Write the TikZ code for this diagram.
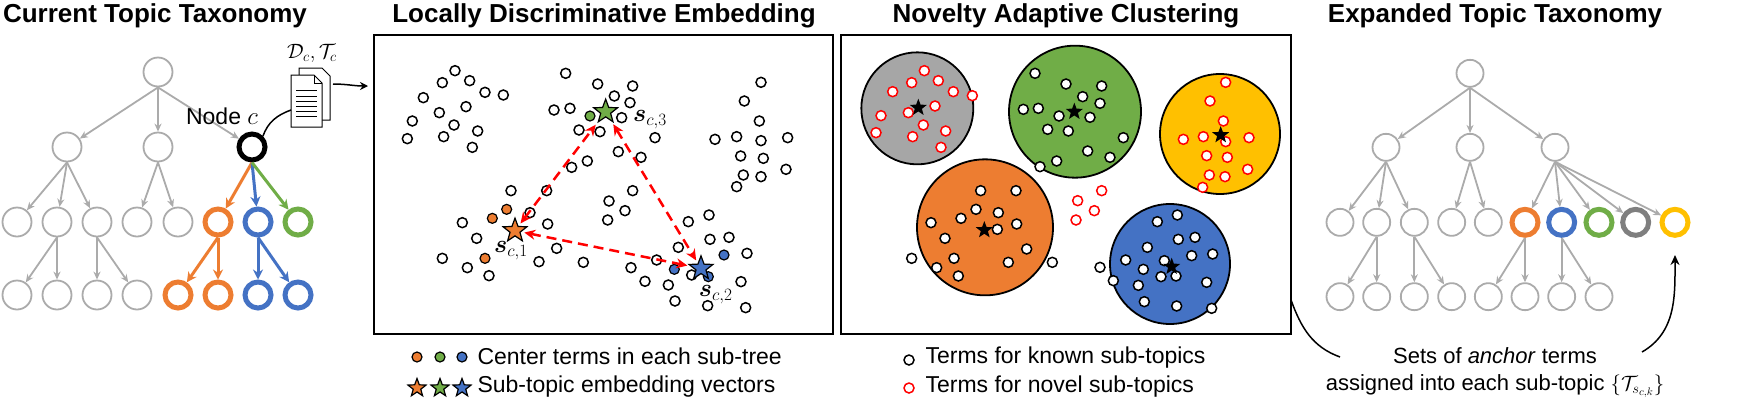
\documentclass[tikz,border=0pt]{standalone}
\usepackage{fontspec}
\setmainfont{Liberation Sans}
\usepackage{amsmath}
\usetikzlibrary{shapes.geometric,arrows.meta}
\definecolor{cor}{HTML}{ED7D31}
\definecolor{cbl}{HTML}{4472C4}
\definecolor{cgr}{HTML}{70AD47}
\definecolor{cye}{HTML}{FFC000}
\definecolor{cgy}{HTML}{A6A6A6}
\definecolor{cdg}{HTML}{7F7F7F}
\definecolor{tg}{HTML}{ABABAB}
\begin{document}
\begin{tikzpicture}[x=1pt,y=-1pt,
  tn/.style={circle,draw=tg,line width=1.8pt,minimum size=29pt,inner sep=0},
  cn/.style={circle,draw=#1,line width=5pt,minimum size=26pt,inner sep=0},
  te/.style={draw=tg,line width=1.8pt,-{Stealth[length=8pt,width=7pt]}},
  ce/.style={draw=#1,line width=3pt,-{Stealth[length=10pt,width=10pt]}},
  pt/.style={circle,draw=black,fill=white,line width=1.5pt,minimum size=10pt,inner sep=0},
  rp/.style={circle,draw=red,fill=white,line width=1.5pt,minimum size=10pt,inner sep=0},
  fp/.style={circle,draw=black,fill=#1,line width=1.2pt,minimum size=10pt,inner sep=0},
  st/.style={star,star points=5,star point ratio=2.4,draw=black,fill=#1,line width=1.2pt,minimum size=25pt,inner sep=0},
  bst/.style={star,star points=5,star point ratio=2.4,fill=black,minimum size=18pt,inner sep=0},
  big/.style={circle,draw=black,line width=1.8pt,fill=#1,inner sep=0},
  ttl/.style={font=\bfseries\fontsize{26}{29}\selectfont},
  lg/.style={font=\fontsize{23}{26}\selectfont,anchor=west},
  ml/.style={font=\fontsize{25}{28}\selectfont},
  rd/.style={draw=red,dashed,dash pattern=on 10pt off 6pt,line width=2.5pt,{Stealth[length=11pt,width=10pt]}-{Stealth[length=11pt,width=10pt]},shorten <=3pt,shorten >=3pt}]
\useasboundingbox (0,0) rectangle (1739,405);
% titles
\node[ttl] (t1) at (155,16) {Current Topic Taxonomy};
\node[ttl] (t2) at (604,16) {Locally Discriminative Embedding};
\node[ttl] (t3) at (1066,16) {Novelty Adaptive Clustering};
\node[ttl] (t4) at (1495,16) {Expanded Topic Taxonomy};
% left tree
\node[tn] (r) at (158,72) {};
\node[tn] (a) at (67,147) {};
\node[tn] (b) at (158,147) {};
\node[circle,draw=black,line width=5pt,minimum size=26pt,inner sep=0] (c) at (252,147) {};
\foreach \n/\x in {a1/17,a2/57,a3/97,b1/137,b2/178}{\node[tn] (\n) at (\x,222) {};}
\node[cn=cor] (c1) at (218,222) {};
\node[cn=cbl] (c2) at (258,222) {};
\node[cn=cgr] (c3) at (298,222) {};
\foreach \n/\x in {d1/17,d2/57,d3/97,d4/137}{\node[tn] (\n) at (\x,295) {};}
\node[cn=cor] (e1) at (178,295) {};
\node[cn=cor] (e2) at (218,295) {};
\node[cn=cbl] (e3) at (258,295) {};
\node[cn=cbl] (e4) at (298,295) {};
\foreach \p/\q in {r/a,r/b,r/c,a/a1,a/a2,a/a3,b/b1,b/b2,a2/d1,a2/d2,a3/d3,a3/d4}{\draw[te] (\p.south) -- (\q);}
\draw[ce=cor] (c.south) -- (c1); \draw[ce=cbl] (c.south) -- (c2); \draw[ce=cgr] (c.south) -- (c3);
\draw[ce=cor] (c1.south) -- (e1); \draw[ce=cor] (c1.south) -- (e2);
\draw[ce=cbl] (c2.south) -- (e3); \draw[ce=cbl] (c2.south) -- (e4);
\node[font=\fontsize{23}{26}\selectfont] (nc) at (222,116) {Node $c$};
% document icon
\draw[line width=1pt,fill=white] (299,68) -- (322,68) -- (330,76) -- (330,120) -- (299,120) -- cycle;
\draw[line width=1pt,fill=white] (291,75) -- (314,75) -- (322,83) -- (322,127) -- (291,127) -- cycle;
\draw[line width=0.8pt] (314,75) -- (314,83) -- (322,83);
\foreach \yy in {90,96,101,106,111,116}{\draw[line width=0.8pt] (296,\yy) -- (317,\yy);}
\coordinate (doc) at (291,110);
\node[font=\fontsize{21}{24}\selectfont] (dl) at (312,53) {$\mathcal{D}_c,\mathcal{T}_c$};
\draw[line width=1.5pt] (doc) to[out=200,in=70] (c.north east);
\coordinate (dR) at (333,84);
\coordinate (bx) at (368,86);
\draw[line width=1.5pt,-{Stealth[length=8pt,width=8pt]}] (dR) to[out=0,in=180] (bx);
% boxes
\draw[line width=2.2pt] (374,35) rectangle (833,334);
\draw[line width=2.2pt] (841,35) rectangle (1291,334);
% box1 points (zoom coords)
\begin{scope}[shift={(335,40)},scale=1/3]
\foreach \p in {(360,92),(322,128),(404,122),(450,157),(505,165),(265,173),(313,218),(393,200),(232,243),(357,255),(428,273),(217,296),(326,290),(412,322),
(692,100),(788,132),(893,138),(838,168),(885,188),(657,210),(705,205),(860,233),(732,270),(795,275),(960,293),(850,335),(918,352),(757,363),(710,382),
(1228,183),(1140,298),(1205,290),(1217,348),(1225,405),(1205,440),
(528,452),(635,452),(893,452),(822,483),(870,512),(818,540),(382,548),(585,518),(638,552),(425,595),(322,655),(397,683),(462,707),(612,665),(665,625),(745,667),(888,683),(965,660),(930,724),(1060,545),(1122,525),(1125,598),(1182,592),(1030,622),(1236,640),(1000,735),(1020,783),(1118,797),(1218,725),(1232,803),(1070,705)}
{\node[pt] at \p {};}
\foreach \p in {(472,535),(515,508),(450,655)}{\node[fp=cor] at \p {};}
\node[fp=cgr] at (765,228) {};
\foreach \p in {(1167,645),(1018,688),(1120,710)}{\node[fp=cbl] at \p {};}
\node[st=cor] (s1) at (540,572) {};
\node[st=cgr] (s3) at (812,215) {};
\node[st=cbl] (s2) at (1098,685) {};
\node[ml] (l3) at (945,238) {$\boldsymbol{s}_{c,3}$};
\node[ml] (l1) at (528,632) {$\boldsymbol{s}_{c,1}$};
\node[ml] (l2) at (1142,765) {$\boldsymbol{s}_{c,2}$};
\end{scope}
\draw[rd] (s1) -- (s3);
\draw[rd] (s3) -- (s2);
\draw[rd] (s1) -- (s2);
\begin{scope}[shift={(755,40)},scale=1/3]
\foreach \p in {(18,127),(13,243),(18,302),(98,293),(25,355),(18,410),(93,388)}{\node[pt] at \p {};}
% box2 clusters
\node[big=cgy,minimum size=112pt] (g) at (487,205) {};
\node[big=cgr,minimum size=132pt] (gr) at (960,215) {};
\node[big=cor,minimum size=136pt] (o) at (690,562) {};
\foreach \p in {(508,92),(470,128),(550,122),(413,155),(595,155),(652,167),(540,198),(460,218),(378,227),(505,255),(572,273),(363,278),(473,290),(558,322),(1040,452),(968,482),(1018,512),(963,540)}{\node[rp] at \p {};}
\node[bst] at (490,203) {};
\foreach \p in {(840,100),(933,132),(1040,138),(983,170),(1035,190),(805,208),(850,205),(912,228),(1005,232),(878,268),(940,273),(1105,293),(998,333),(905,363),(1065,352),(855,380),
(677,452),(783,452),(663,508),(730,518),(618,535),(528,548),(785,552),(727,568),(570,595),(815,627),(597,655),(470,655),(545,683),(760,667),(892,667),(610,708)}{\node[pt] at \p {};}
\node[bst] at (958,215) {};
\node[bst] at (688,570) {};
\end{scope}
\begin{scope}[shift={(1170,0)},scale=1/3]
\node[big=cbl,minimum size=120pt] (bl) at (0,792) {};
\node[big=cye,minimum size=120pt] (ye) at (150,402) {};
\foreach \p in {(22,645),(25,718),(75,712),(65,767),(128,762),(18,828),(110,847),(20,918),(125,925)}{\node[pt] at \p {};}
\foreach \p in {(167,247),(120,303),(160,363),(40,418),(100,410),(167,425),(237,413),(110,467),(172,472),(233,508),(118,525),(165,530),(98,562)}{\node[rp] at \p {};}
\node[bst] at (152,405) {};
\end{scope}
\begin{scope}[shift={(755,40)},scale=1/3]
\foreach \p in {(1207,545),(1177,622),(1112,660),(1165,688),(1228,662),(1218,710),(1150,736),(1168,785),(1035,682),(1075,722)}{\node[pt] at \p {};}
\node[bst] at (1250,680) {};
\end{scope}
% legends
\foreach \x/\c in {417/cor,440/cgr,462/cbl}{\node[fp=\c] at (\x,357) {};}
\foreach \x/\c in {417/cor,440/cgr,462/cbl}{\node[st=\c,minimum size=19pt] at (\x,388) {};}
\node[lg] (lg1) at (474,356) {Center terms in each sub-tree};
\node[lg] (lg2) at (474,387) {Sub-topic embedding vectors};
\node[pt] at (909,360) {};
\node[rp] at (909,388) {};
\node[lg] (lg3) at (922,358) {Terms for known sub-topics};
\node[lg] (lg4) at (922,387) {Terms for novel sub-topics};
% right tree
\begin{scope}[shift={(1170,0)},scale=1/3]
\node[tn,minimum size=27pt] (R) at (900,220) {};
\node[tn,minimum size=27pt] (A) at (648,442) {};
\node[tn,minimum size=27pt] (B) at (900,442) {};
\node[tn,minimum size=27pt] (C) at (1155,442) {};
\foreach \n/\x in {A1/510,A2/620,A3/733,B1/845,B2/955}{\node[tn,minimum size=27pt] (\n) at (\x,667) {};}
\node[cn=cor] (C1) at (1065,667) {};
\node[cn=cbl] (C2) at (1175,667) {};
\node[cn=cgr] (C3) at (1287,667) {};
\node[cn=cdg] (C4) at (1397,667) {};
\node[cn=cye] (C5) at (1515,667) {};
\foreach \n/\x in {D1/510,D2/620,D3/733,D4/845,E1/955,E2/1065,E3/1175,E4/1287}{\node[tn,minimum size=27pt] (\n) at (\x,890) {};}
\end{scope}
\foreach \p/\q in {R/A,R/B,R/C,A/A1,A/A2,A/A3,B/B1,B/B2,C/C1,C/C2,C/C3,C/C4,C/C5,A2/D1,A2/D2,A3/D3,A3/D4,C1/E1,C1/E2,C2/E3,C2/E4}{\draw[te] (\p.south) -- (\q);}
\node[font=\fontsize{22}{25}\selectfont] (s1t) at (1495,356) {Sets of \emph{anchor} terms};
\node[font=\fontsize{22}{25}\selectfont] (s2t) at (1495,386) {assigned into each sub-topic $\{\mathcal{T}_{s_{c,k}}\}$};
\coordinate (q1) at (1291,300);
\coordinate (q2) at (1340,357);
\draw[line width=1.5pt] (q1) to[out=-70,in=160] (q2);
\coordinate (q3) at (1642,352);
\draw[line width=1.5pt,-{Stealth[length=10pt,width=9pt]}] (q3) to[out=30,in=-90] (C5.south |- 0,255);
\end{tikzpicture}
\end{document}
